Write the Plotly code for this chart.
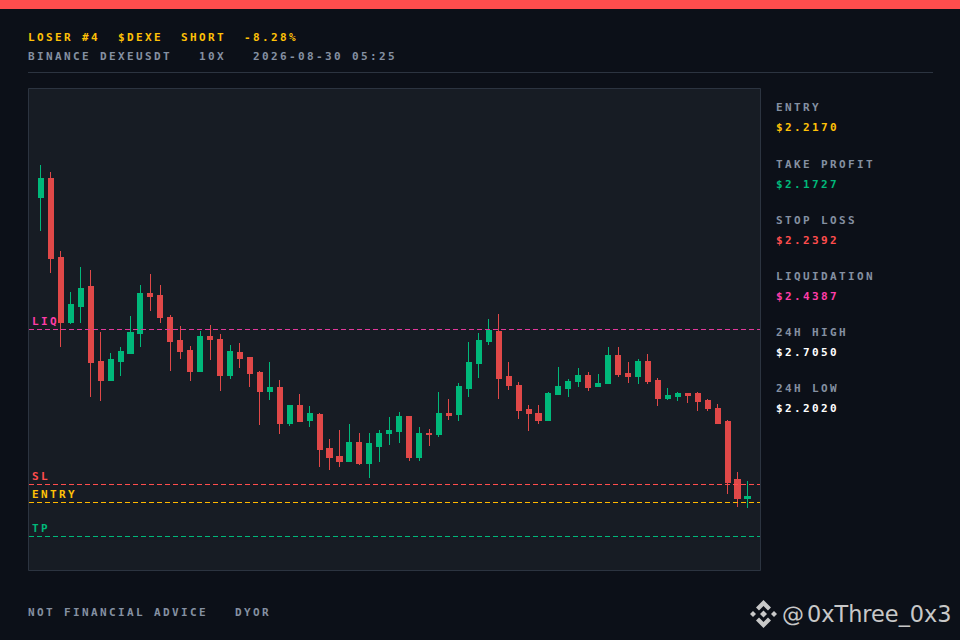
import plotly.graph_objects as go

# candles, oldest first
opens = [2.6090, 2.6334, 2.5319, 2.4483, 2.4677, 2.4934, 2.3982, 2.3738, 2.3982, 2.4085, 2.4330, 2.4844,
         2.4831, 2.4548, 2.4252, 2.4124, 2.3854, 2.4304, 2.4265, 2.3790, 2.4098, 2.4034, 2.3841, 2.3597,
         2.3648, 2.3185, 2.3417, 2.3224, 2.3289, 2.2864, 2.2749, 2.2697, 2.2941, 2.2659, 2.2890, 2.3045,
         2.3070, 2.3263, 2.2736, 2.3057, 2.3032, 2.3302, 2.3289, 2.3623, 2.3956, 2.4239, 2.4368, 2.3777,
         2.3674, 2.3353, 2.3314, 2.3224, 2.3546, 2.3635, 2.3725, 2.3790, 2.3661, 2.3687, 2.4047, 2.3816,
         2.3777, 2.3982, 2.3738, 2.3507, 2.3520, 2.3559, 2.3559, 2.3481, 2.3366, 2.3211, 2.2453, 2.2209]
highs = [2.6502, 2.6411, 2.5396, 2.4869, 2.5191, 2.5152, 2.4355, 2.4085, 2.4162, 2.4561, 2.4960, 2.5101,
         2.4960, 2.4574, 2.4432, 2.4175, 2.4368, 2.4445, 2.4330, 2.4188, 2.4213, 2.4034, 2.3854, 2.3969,
         2.3738, 2.3417, 2.3559, 2.3404, 2.3314, 2.2980, 2.3096, 2.3173, 2.3057, 2.3057, 2.3096, 2.3263,
         2.3327, 2.3263, 2.3134, 2.3109, 2.3584, 2.3494, 2.3699, 2.4226, 2.4342, 2.4522, 2.4587, 2.3969,
         2.3712, 2.3417, 2.3417, 2.3584, 2.3905, 2.3751, 2.3892, 2.3841, 2.3816, 2.4162, 2.4162, 2.3969,
         2.4008, 2.4073, 2.3764, 2.3635, 2.3584, 2.3571, 2.3584, 2.3494, 2.3430, 2.3224, 2.2556, 2.2440]
lows = [2.5654, 2.5113, 2.4162, 2.4458, 2.4470, 2.3520, 2.3468, 2.3725, 2.3790, 2.4073, 2.4162, 2.4625,
        2.4470, 2.3854, 2.4008, 2.3725, 2.3841, 2.3995, 2.3597, 2.3751, 2.3892, 2.3648, 2.3160, 2.3481,
        2.3045, 2.3147, 2.3198, 2.3134, 2.2620, 2.2582, 2.2620, 2.2697, 2.2646, 2.2479, 2.2684, 2.2903,
        2.2928, 2.2697, 2.2697, 2.2890, 2.3006, 2.3224, 2.3211, 2.3520, 2.3764, 2.4188, 2.3494, 2.3610,
        2.3237, 2.3083, 2.3173, 2.3211, 2.3546, 2.3520, 2.3648, 2.3597, 2.3648, 2.3687, 2.3777, 2.3699,
        2.3687, 2.3687, 2.3404, 2.3481, 2.3468, 2.3442, 2.3340, 2.3340, 2.3173, 2.2274, 2.2106, 2.2093]
closes = [2.6334, 2.5306, 2.4483, 2.4703, 2.4921, 2.3969, 2.3738, 2.4008, 2.4111, 2.4355, 2.4844, 2.4818,
          2.4548, 2.4239, 2.4111, 2.3854, 2.4304, 2.4265, 2.3790, 2.4111, 2.4021, 2.3816, 2.3597, 2.3648,
          2.3173, 2.3417, 2.3211, 2.3302, 2.2851, 2.2736, 2.2697, 2.2941, 2.2659, 2.2916, 2.3057, 2.3083,
          2.3263, 2.2736, 2.3057, 2.3032, 2.3302, 2.3276, 2.3661, 2.3969, 2.4252, 2.4381, 2.3764, 2.3674,
          2.3340, 2.3314, 2.3224, 2.3559, 2.3661, 2.3725, 2.3790, 2.3648, 2.3699, 2.4047, 2.3803, 2.3777,
          2.3982, 2.3725, 2.3507, 2.3533, 2.3559, 2.3533, 2.3468, 2.3366, 2.3185, 2.2427, 2.2209, 2.2247]

level_names = ["LIQ", "SL", "ENTRY", "TP"]
level_prices = [2.4387, 2.2392, 2.2170, 2.1727]
level_colors = ["#e0399a", "#ff4d4d", "#ffb800", "#00b87a"]
label_colors = ["#ff3da8", "#ff4d4d", "#ffc107", "#00b87a"]
label_tops = [321, 476, 494, 528]

side_labels = ["ENTRY", "TAKE PROFIT", "STOP LOSS", "LIQUIDATION", "24H HIGH", "24H LOW"]
side_values = ["$2.2170", "$2.1727", "$2.2392", "$2.4387", "$2.7050", "$2.2020"]
side_colors = ["#ffc107", "#00b87a", "#ff4d4d", "#ff3da8", "#ffffff", "#ffffff"]

W, H = 960, 640
GREY = "#8590a2"
MONO = "DejaVu Sans Mono"


# everything is placed in page pixels, so convert them to paper fractions
def px(x):
    return x / W


def py(y):
    return 1 - y / H


def text(x, y, s, color, size=11, family=MONO, bold=True):
    fig.add_annotation(x=px(x), y=py(y), xref="paper", yref="paper", text=f"<b>{s}</b>" if bold else s,
                       showarrow=False, xanchor="left", yanchor="middle", align="left",
                       font=dict(family=family, size=size, color=color), borderpad=0, borderwidth=0)


def box(x0, y0, x1, y1, **kw):
    fig.add_shape(type="rect", xref="paper", yref="paper", x0=px(x0), x1=px(x1), y0=py(y0), y1=py(y1), **kw)


fig = go.Figure(go.Candlestick(
    x=list(range(len(opens))), open=opens, high=highs, low=lows, close=closes,
    increasing=dict(line=dict(color="#00b87a", width=1), fillcolor="#00b87a"),
    decreasing=dict(line=dict(color="#e04848", width=1), fillcolor="#e04848"),
    hoverinfo="skip",
))

fig.update_layout(
    width=W, height=H, autosize=False, showlegend=False,
    margin=dict(l=0, r=0, t=0, b=0),
    paper_bgcolor="#0c1018", plot_bgcolor="#171c24",
    boxgap=0.27,
    xaxis=dict(domain=[px(29), px(760)], range=[-1.2, 72.26], visible=False, rangeslider=dict(visible=False)),
    yaxis=dict(domain=[py(570), py(89)], range=[2.1296, 2.7479], visible=False),
)

# top bar, header rule, chart border
box(0, 0, W, 9, fillcolor="#ff4d4d", line_width=0)
box(28, 72, 933, 73, fillcolor="#2c3440", line_width=0)
box(28.5, 88.5, 760.5, 570.5, line=dict(color="#2c3440", width=1))

for name, price, color, label_color, top in zip(level_names, level_prices, level_colors, label_colors, label_tops):
    fig.add_shape(type="line", xref="paper", yref="y", x0=px(29), x1=px(760), y0=price, y1=price,
                  line=dict(color=color, width=1, dash="5px,3px"))
    text(32, top, name, label_color)

text(28, 38, "LOSER #4  $DEXE  SHORT  -8.28%", "#ffc107")
text(28, 56, "BINANCE DEXEUSDT   10X   2026-08-30 05:25", GREY)
text(28, 612, "NOT FINANCIAL ADVICE   DYOR", GREY)

for i in range(len(side_labels)):
    text(776, 108 + 56 * i, side_labels[i], GREY)
    text(776, 128 + 56 * i, side_values[i], side_colors[i])

# watermark, the logo is five small polygons
logo = [[(763.5, 600), (771, 607.5), (768, 610.5), (763.5, 606), (759, 610.5), (756, 607.5)],
        [(763.5, 628), (771, 620.5), (768, 617.5), (763.5, 622), (759, 617.5), (756, 620.5)],
        [(763.5, 610.5), (767, 614), (763.5, 617.5), (760, 614)],
        [(753, 611), (756, 614), (753, 617), (750, 614)],
        [(774, 611), (777, 614), (774, 617), (771, 614)]]
for poly in logo:
    path = "M" + " L".join(f"{px(x):.5f},{py(y):.5f}" for x, y in poly) + " Z"
    fig.add_shape(type="path", xref="paper", yref="paper", path=path, line_width=0, fillcolor="#c8c8c8")
text(782, 614, "@", "#c8c8c8", size=22, family="DejaVu Sans", bold=False)
text(807, 614, "0xThree_0x3", "#c8c8c8", size=22.4, family="DejaVu Sans", bold=False)

# the reference text is tracked out to a 9px pitch, plotly has no option for that
# crispEdges keeps the candles and dashed levels on whole pixels like the reference
spacing = """
document.body.style.margin = '0';
document.documentElement.style.overflow = 'hidden';
document.querySelectorAll('.annotation-text').forEach(function (t) {
    t.style.whiteSpace = 'pre';
    if (t.textContent.indexOf('0xThree') < 0 && t.textContent !== '@') t.style.letterSpacing = '2.38px';
});
document.querySelectorAll('.boxes path').forEach(function (p) {
    p.style.shapeRendering = 'crispEdges';
});
document.querySelectorAll('.shapelayer path[style*="dasharray"]').forEach(function (p) {
    p.style.shapeRendering = 'crispEdges';
});
"""

fig.write_html("out.html", post_script=spacing, config=dict(displayModeBar=False))
